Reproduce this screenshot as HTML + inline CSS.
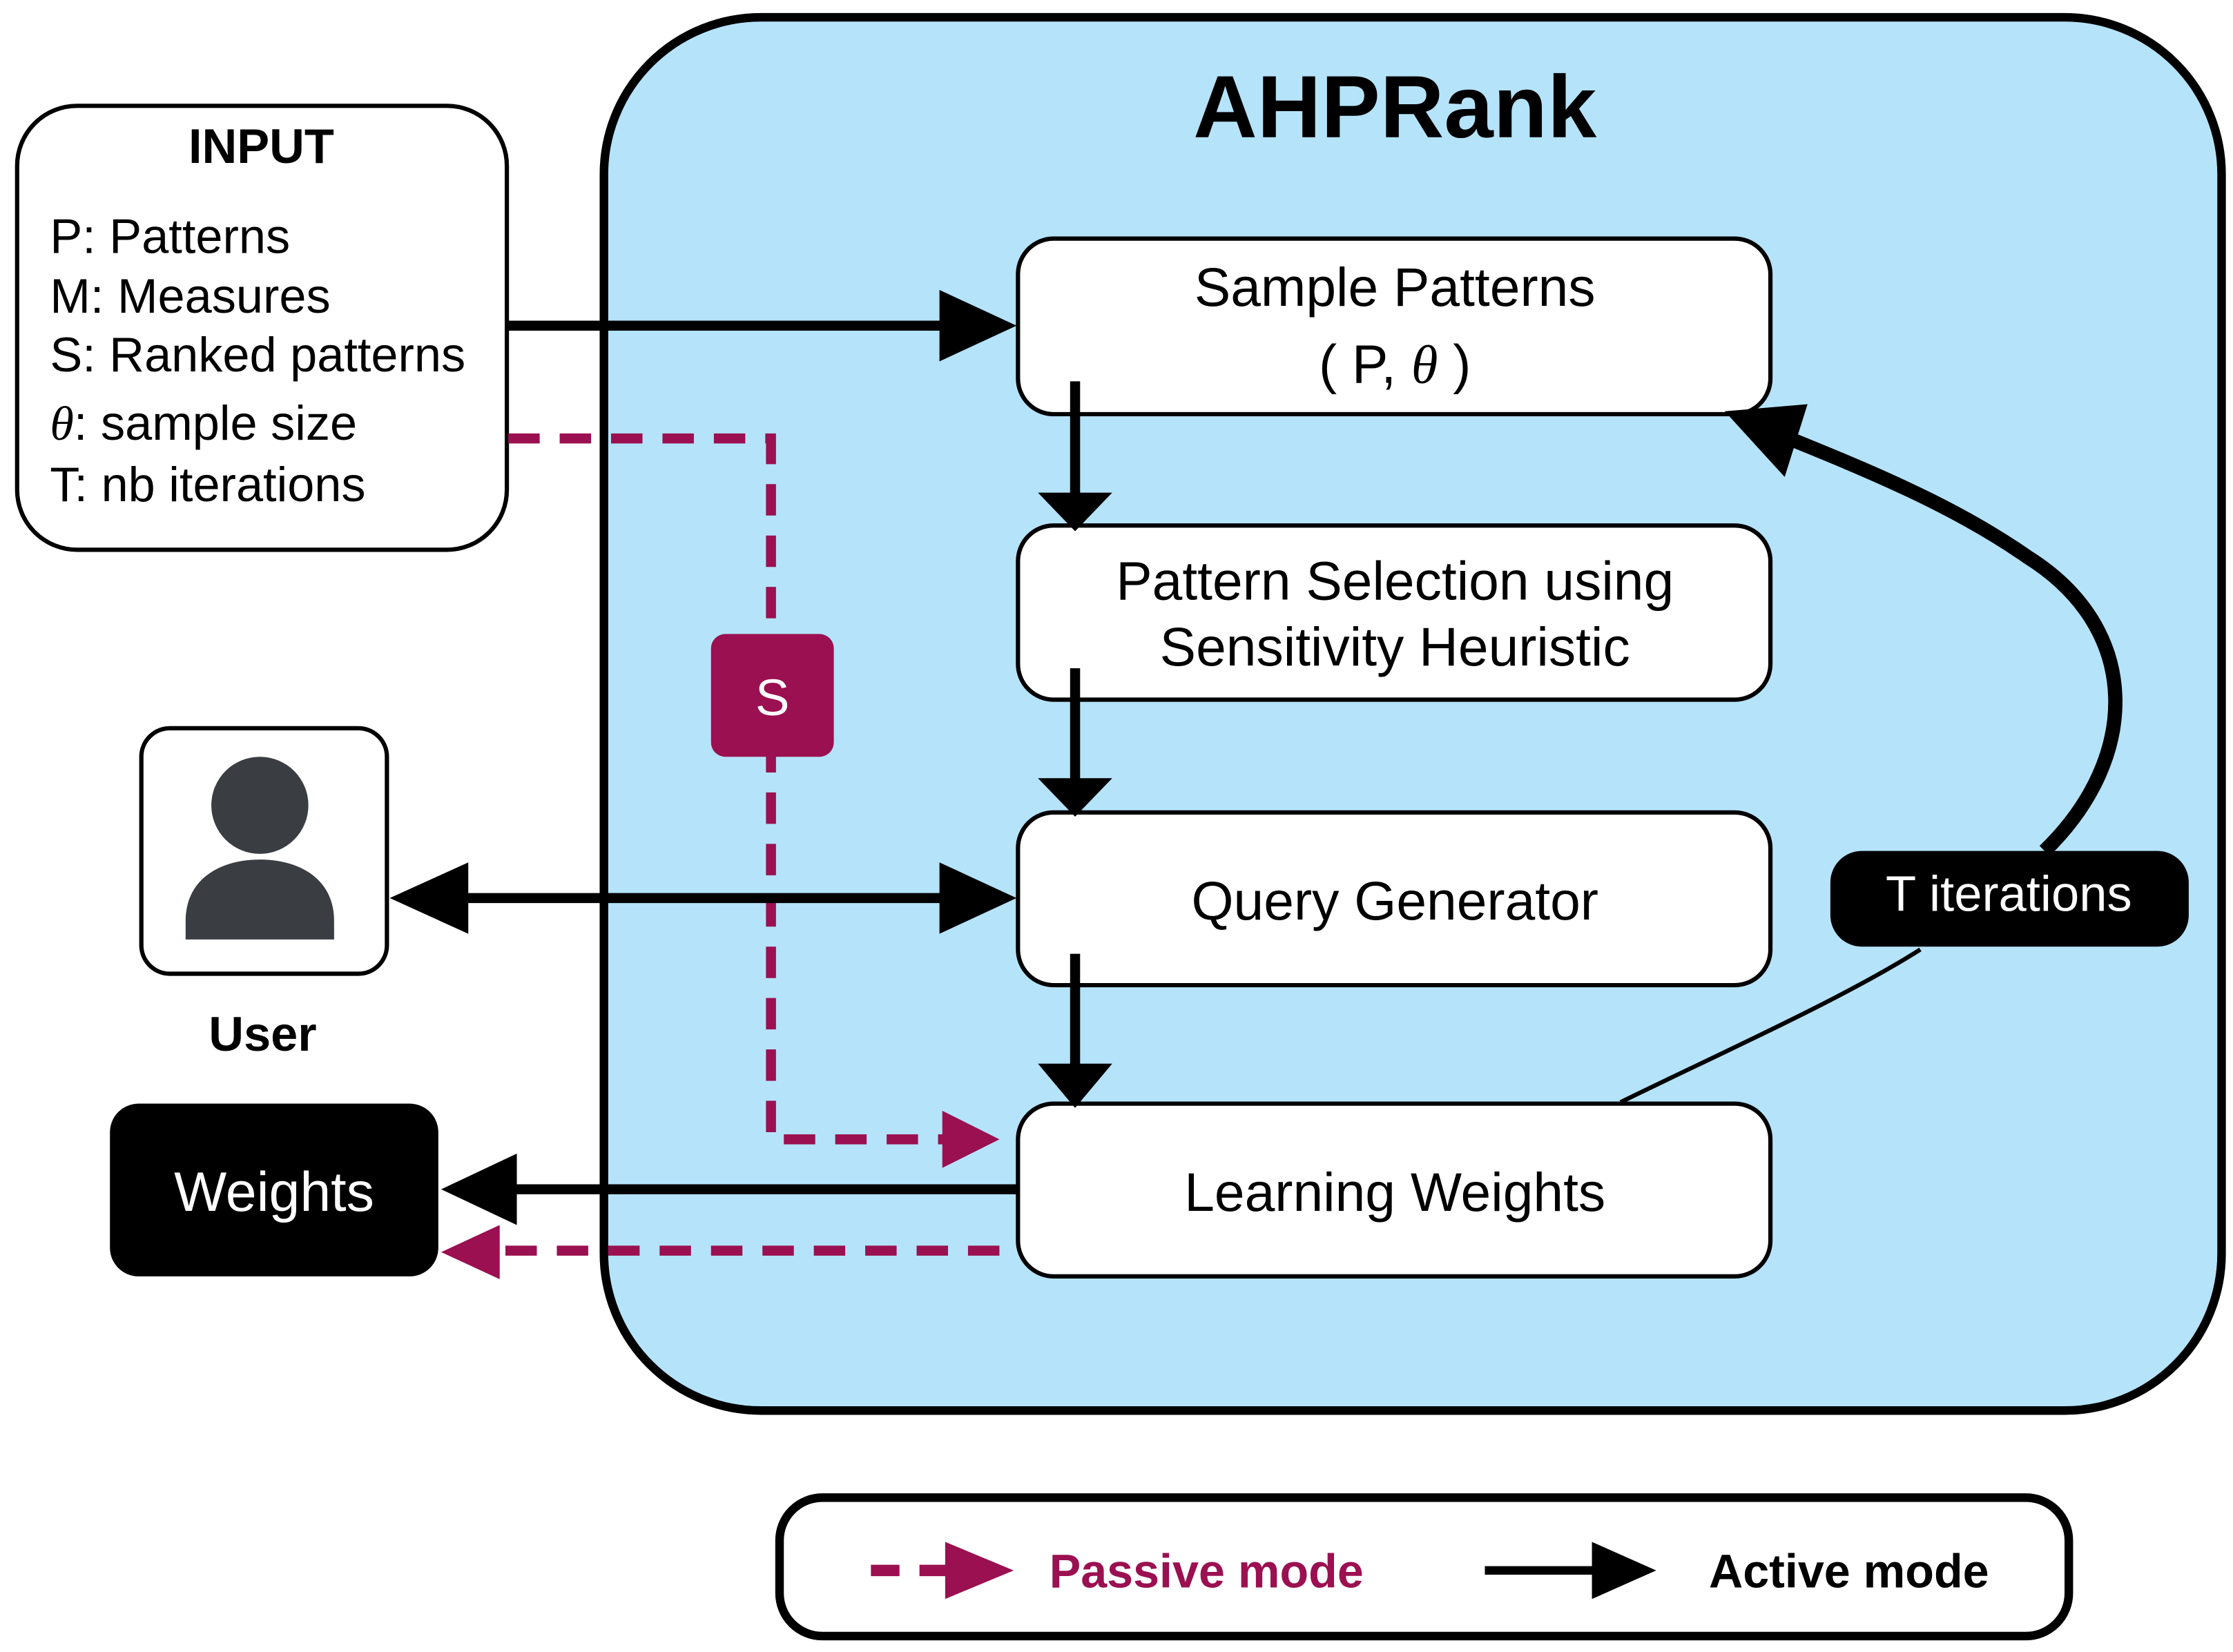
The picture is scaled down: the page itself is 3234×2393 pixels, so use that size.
<!DOCTYPE html>
<html><head><meta charset="utf-8"><style>
html,body{margin:0;padding:0;background:#fff;}
svg{display:block;}
text{font-family:"Liberation Sans",Arial,sans-serif;}
</style></head><body>
<svg width="3234" height="2393" viewBox="0 0 1564 1157" xmlns="http://www.w3.org/2000/svg">
<rect x="0" y="0" width="1564" height="1157" fill="#fff"/>
<rect x="423" y="12" width="1133" height="976" rx="110" fill="#b5e3fa" stroke="#000" stroke-width="6"/>
<text x="977" y="96" font-size="62" font-weight="bold" text-anchor="middle">AHPRank</text>

<rect x="12" y="74" width="343" height="311" rx="42" fill="#fff" stroke="#000" stroke-width="3"/>
<text x="183" y="114" font-size="34" font-weight="bold" text-anchor="middle">INPUT</text>
<text x="35" y="177" font-size="34">P: Patterns</text>
<text x="35" y="219" font-size="34">M: Measures</text>
<text x="35" y="260" font-size="34">S: Ranked patterns</text>
<text x="35" y="308" font-size="34"><tspan font-family="Liberation Serif" font-style="italic">θ</tspan>: sample size</text>
<text x="35" y="351" font-size="34">T: nb iterations</text>

<g fill="#fff" stroke="#000" stroke-width="3">
<rect x="713" y="167" width="527" height="123" rx="25"/>
<rect x="713" y="368" width="527" height="122" rx="25"/>
<rect x="713" y="569" width="527" height="121" rx="25"/>
<rect x="713" y="773" width="527" height="121" rx="25"/>
</g>
<g font-size="38" text-anchor="middle">
<text x="977" y="214">Sample Patterns</text>
<text x="977" y="268">( P, <tspan font-family="Liberation Serif" font-style="italic">θ</tspan> )</text>
<text x="977" y="420">Pattern Selection using</text>
<text x="977" y="466">Sensitivity Heuristic</text>
<text x="977" y="644">Query Generator</text>
<text x="977" y="848">Learning Weights</text>
</g>

<g stroke="#000" stroke-width="7">
<line x1="753" y1="267" x2="753" y2="350"/>
<line x1="753" y1="468" x2="753" y2="550"/>
<line x1="753" y1="668" x2="753" y2="752"/>
</g>
<polygon points="727,345 779,345 753,372" fill="#000"/>
<polygon points="727,545 779,545 753,572" fill="#000"/>
<polygon points="727,745 779,745 753,776" fill="#000"/>

<line x1="356" y1="228" x2="665" y2="228" stroke="#000" stroke-width="7"/>
<polygon points="658,203 712,228 658,253" fill="#000"/>

<polyline points="356,307 540,307 540,798 665,798" fill="none" stroke="#9b1050" stroke-width="7" stroke-dasharray="22,14"/>
<polygon points="660,778 700,798 660,818" fill="#9b1050"/>
<rect x="498" y="444" width="86" height="86" rx="10" fill="#9b1050"/>
<text x="541" y="501" font-size="36" fill="#fff" text-anchor="middle">S</text>

<rect x="99" y="510" width="172" height="172" rx="20" fill="#fff" stroke="#000" stroke-width="3"/>
<circle cx="182" cy="564" r="34" fill="#3a3d41"/>
<path d="M130,658 L130,645 C130,615 155,602 182,602 C209,602 234,615 234,645 L234,658 Z" fill="#3a3d41"/>
<text x="184" y="736" font-size="34" font-weight="bold" text-anchor="middle">User</text>

<line x1="320" y1="629" x2="665" y2="629" stroke="#000" stroke-width="7"/>
<polygon points="273,629 328,604 328,654" fill="#000"/>
<polygon points="658,604 712,629 658,654" fill="#000"/>

<rect x="77" y="773" width="230" height="121" rx="20" fill="#000"/>
<text x="192" y="848" font-size="39" fill="#fff" text-anchor="middle">Weights</text>
<line x1="713" y1="833" x2="355" y2="833" stroke="#000" stroke-width="7"/>
<polygon points="309,833 362,808 362,858" fill="#000"/>
<line x1="700" y1="876" x2="345" y2="876" stroke="#9b1050" stroke-width="7" stroke-dasharray="22,14"/>
<polygon points="309,877 350,858 350,896" fill="#9b1050"/>

<path d="M1135,772 C1200,740 1290,700 1345,665" fill="none" stroke="#000" stroke-width="3"/>
<path d="M1432,596 C1500,530 1500,440 1420,390 C1370,355 1310,330 1248,305" fill="none" stroke="#000" stroke-width="10"/>
<polygon points="1208,288 1266,283 1250,334" fill="#000"/>
<rect x="1282" y="596" width="251" height="67" rx="22" fill="#000"/>
<text x="1407" y="638" font-size="35" fill="#fff" text-anchor="middle">T iterations</text>

<rect x="546" y="1049" width="903" height="97" rx="30" fill="#fff" stroke="#000" stroke-width="6"/>
<line x1="610" y1="1100" x2="665" y2="1100" stroke="#9b1050" stroke-width="8" stroke-dasharray="20,14"/>
<polygon points="662,1080 710,1100 662,1120" fill="#9b1050"/>
<text x="845" y="1112" font-size="33" font-weight="bold" fill="#9b1050" text-anchor="middle">Passive mode</text>
<line x1="1040" y1="1100" x2="1120" y2="1100" stroke="#000" stroke-width="6"/>
<polygon points="1115,1080 1160,1100 1115,1120" fill="#000"/>
<text x="1295" y="1112" font-size="33" font-weight="bold" text-anchor="middle">Active mode</text>
</svg>
</body></html>
